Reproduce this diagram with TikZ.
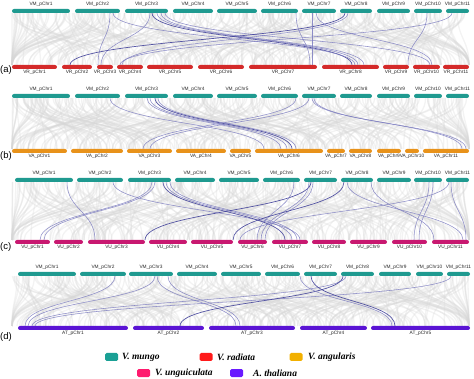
\documentclass[tikz,border=0pt]{standalone}
\usepackage{fontspec}
\setmainfont{Liberation Serif}
\setsansfont{Liberation Sans}
\usetikzlibrary{calc}
\pgfdeclarelayer{bg}
\pgfsetlayers{bg,main}
\definecolor{cVM}{HTML}{1F9A90}
\definecolor{cVR}{HTML}{D42A2A}
\definecolor{cVA}{HTML}{E8921A}
\definecolor{cVU}{HTML}{C81870}
\definecolor{cAT}{HTML}{5A14D4}
\definecolor{lVM}{HTML}{1AA095}
\definecolor{lVR}{HTML}{FF1A1A}
\definecolor{lVA}{HTML}{F2B000}
\definecolor{lVU}{HTML}{FF1A6E}
\definecolor{lAT}{HTML}{6A1AFF}
\definecolor{linkc}{HTML}{7C7CC0}
\definecolor{linkd}{HTML}{45459C}
\definecolor{greyl}{HTML}{D6D6D6}
\tikzset{
 bar/.style={draw=none, rounded corners=2pt, minimum height=4pt, inner sep=0pt, outer sep=0pt},
 lab/.style={font=\sffamily\fontsize{4.8}{5}\selectfont, inner sep=0pt, text=black!85},
 blink/.style={draw=linkc, line width=0.55pt, opacity=0.85},
 dlink/.style={draw=linkd, line width=0.7pt, opacity=0.9},
 glink/.style={draw=greyl, line width=1.3pt, opacity=0.3},
 plab/.style={font=\sffamily\fontsize{9.5}{10}\selectfont, inner sep=0pt, anchor=west},
 leg/.style={font=\fontsize{9.5}{10}\selectfont\bfseries\itshape, inner sep=0pt, anchor=west},
 sw/.style={rounded corners=1.5pt, minimum width=13pt, minimum height=8pt, inner sep=0pt, draw=none},
}
\newcommand\chrT[6]{\node[bar,fill=#2,minimum width={(#4-#3)*1pt},label={[lab,yshift=2pt]90:#6}] (#1) at ({(#3+#4)/2},#5) {};}
\newcommand\chrB[6]{\node[bar,fill=#2,minimum width={(#4-#3)*1pt},label={[lab,yshift=-1.2pt]270:#6}] (#1) at ({(#3+#4)/2},#5) {};}
\newcommand\greys[4]{%
 \pgfmathsetseed{#4}%
 \foreach \i in {1,...,#3}{%
  \pgfmathsetmacro\xa{12+457*rnd}%
  \pgfmathsetmacro\xb{max(12,min(469,\xa+260*(rnd-0.5)))}%
  \draw[glink] (\xa,#1) .. controls (\xa,{(#1+#2)/2}) and (\xb,{(#1+#2)/2}) .. (\xb,#2);
 }}
\newcommand\lk[5][blink]{\draw[#1] (#3,0 |- #2.south) .. controls +(0,\cg) and +(0,-\cg) .. (#5,0 |- #4.north);}
\begin{document}
\begin{tikzpicture}[x=1pt,y=-1pt]
\useasboundingbox (0,0) rectangle (474,379);
% ---- bars panel a
\foreach \a/\b [count=\n] in {12/70,75/120,125/168,173/213,217/257,261/298,302/336,340/372,377/410,414/442,446/469}
 {\chrT{avm\n}{cVM}{\a}{\b}{11}{VM\_pChr\n}}
\foreach \a/\b [count=\n] in {12/57,62/92,97/113,117/143,147/193,198/244,249/317,322/379,383/409,413/440,443/469}
 {\chrB{avr\n}{cVR}{\a}{\b}{67}{VR\_pChr\n}}
% ---- panel b
\foreach \a/\b [count=\n] in {12/70,75/120,125/168,173/213,217/257,261/298,302/336,340/372,377/410,414/442,446/469}
 {\chrT{bvm\n}{cVM}{\a}{\b}{96}{VM\_pChr\n}}
\foreach \a/\b [count=\n] in {12/67,71/123,127/172,176/226,230/251,255/323,327/345,349/372,377/401,405/419,423/469}
 {\chrB{bva\n}{cVA}{\a}{\b}{151}{VA\_pChr\n}}
% ---- panel c
\foreach \a/\b [count=\n] in {15/73,77/123,128/171,175/215,219/259,263/300,304/337,341/373,377/411,414/442,446/469}
 {\chrT{cvm\n}{cVM}{\a}{\b}{180}{VM\_pChr\n}}
\foreach \a/\b [count=\n] in {15/50,54/83,88/145,149/187,191/233,238/267,272/308,312/346,350/387,392/427,432/469}
 {\chrB{cvu\n}{cVU}{\a}{\b}{242}{VU\_pChr\n}}
% ---- panel d
\foreach \a/\b [count=\n] in {18/76,80/126,129/173,177/217,221/261,265/300,304/337,341/374,379/411,416/443,447/470}
 {\chrT{dvm\n}{cVM}{\a}{\b}{274}{VM\_pChr\n}}
\foreach \a/\b [count=\n] in {18/128,133/204,209/295,300/367,371/470}
 {\chrB{dat\n}{cAT}{\a}{\b}{328}{AT\_pChr\n}}
% panel labels
\node[plab] (pa) at (0,70) {(a)};
\node[plab] (pb) at (0,156) {(b)};
\node[plab] (pc) at (0,247) {(c)};
\node[plab] (pd) at (0,337) {(d)};
% ---- links
\begin{pgfonlayer}{bg}
\greys{13}{65}{320}{11}
\greys{98}{149}{320}{23}
\greys{182}{240}{320}{37}
\greys{276}{326}{320}{51}
% a
\def\cg{26}
\lk{avm2}{110}{avr3}{98}
\lk{avm3}{150}{avr3}{101}
\lk[dlink]{avm3}{152}{avr8}{352}
\lk{avm3}{157}{avr8}{358}
\lk{avm3}{161}{avr8}{364}
\lk{avm3}{165}{avr10}{430}
\lk{avm2}{113}{avr8}{355}
\lk[dlink]{avm8}{345}{avr2}{70}
\lk{avm8}{348}{avr4}{122}
\lk{avm11}{452}{avr4}{120}
\lk{avm6}{296}{avr7}{310}
\lk{avm7}{312}{avr7}{312}
\lk{avm7}{316}{avr10}{432}
\lk{avm10}{427}{avr9}{408}
% b
\def\cg{25}
\lk{bvm2}{110}{bva6}{264}
\lk{bvm3}{147}{bva6}{281}
\lk{bvm3}{150}{bva6}{287}
\lk[dlink]{bvm3}{155}{bva6}{292}
\lk{bvm3}{158}{bva6}{296}
\lk{bvm6}{296}{bva3}{143}
\lk{bvm7}{309}{bva3}{150}
\lk{bvm7}{312}{bva11}{466}
\lk{bvm7}{314}{bva11}{462}
% c
\def\cg{28}
\lk{cvm2}{67}{cvu3}{95}
\lk{cvm2}{113}{cvu7}{300}
\lk{cvm3}{152}{cvu1}{40}
\lk{cvm3}{155}{cvu1}{44}
\lk[dlink]{cvm3}{163}{cvu7}{285}
\lk{cvm3}{166}{cvu7}{292}
\lk{cvm3}{170}{cvu7}{297}
\lk[dlink]{cvm7}{311}{cvu3}{145}
\lk{cvm6}{294}{cvu6}{257}
\lk{cvm7}{309}{cvu6}{261}
\lk{cvm7}{313}{cvu6}{265}
\lk[dlink]{cvm8}{344}{cvu5}{233}
\lk{cvm8}{347}{cvu11}{463}
\lk{cvm8}{371}{cvu11}{434}
\lk{cvm10}{429}{cvu10}{414}
\lk{cvm10}{433}{cvu10}{419}
\lk{cvm11}{451}{cvu11}{466}
\lk{cvm11}{449}{cvu6}{240}
% d
\def\cg{25}
\lk{dvm2}{115}{dat1}{25}
\lk{dvm3}{155}{dat1}{28}
\lk{dvm3}{157}{dat3}{236}
\lk{dvm3}{168}{dat3}{240}
\lk{dvm8}{346}{dat1}{32}
\lk{dvm11}{451}{dat1}{35}
\lk[dlink]{dvm8}{343}{dat2}{180}
\lk{dvm6}{300}{dat5}{392}
\lk[dlink]{dvm7}{311}{dat5}{395}
\end{pgfonlayer}
% ---- legend
\node[sw,fill=lVM] (s1) at (111.5,357) {};
\node[leg] (t1) at (122,357) {V. mungo};
\node[sw,fill=lVR] (s2) at (206,357) {};
\node[leg] (t2) at (217,357) {V. radiata};
\node[sw,fill=lVA] (s3) at (296,357) {};
\node[leg] (t3) at (308,357) {V. angularis};
\node[sw,fill=lVU] (s4) at (143.5,373) {};
\node[leg] (t4) at (155,373) {V. unguiculata};
\node[sw,fill=lAT] (s5) at (236.5,373) {};
\node[leg] (t5) at (253,373) {A. thaliana};
\end{tikzpicture}
\end{document}
